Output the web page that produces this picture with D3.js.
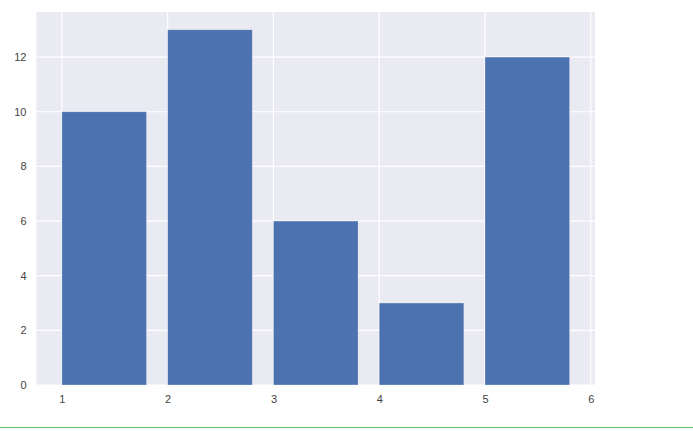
<!DOCTYPE html>
<html><head><meta charset="utf-8">
<script src="https://cdn.jsdelivr.net/npm/d3@7"></script>
<style>body{margin:0;background:#fff;}svg{display:block;}</style>
</head><body>
<svg id="c" width="693" height="431"></svg>
<script>
const categories = [1, 2, 3, 4, 5];
const values = [10, 13, 6, 3, 12];
const xTicks = [1, 2, 3, 4, 5, 6];
const yTicks = [0, 2, 4, 6, 8, 10, 12];
const barWidth = 0.8;

const svg = d3.select("#c");
const L = 36.5, R = 595, T = 12, B = 385;
const x = d3.scaleLinear().domain([0.76, 6.04]).range([L, R]);
const y = d3.scaleLinear().domain([0, 13.65]).range([B, T]);

svg.append("rect").attr("x", L).attr("y", T).attr("width", R - L).attr("height", B - T).attr("fill", "#EAEAF2");

const g = svg.append("g");
g.selectAll(".gx").data(xTicks).join("line")
  .attr("x1", d => x(d)).attr("x2", d => x(d)).attr("y1", T).attr("y2", B)
  .attr("stroke", "#fff").attr("stroke-width", 1.2);
g.selectAll(".gy").data(yTicks).join("line")
  .attr("x1", L).attr("x2", R).attr("y1", d => y(d)).attr("y2", d => y(d))
  .attr("stroke", "#fff").attr("stroke-width", 1.2);

svg.selectAll(".bar").data(categories).join("rect")
  .attr("x", d => x(d)).attr("width", d => x(d + barWidth) - x(d))
  .attr("y", (d, i) => y(values[i])).attr("height", (d, i) => y(0) - y(values[i]))
  .attr("fill", "#4C72B0").attr("stroke", "rgba(255,255,255,0.35)").attr("stroke-width", 0.8);

const xAxis = d3.axisBottom(x).tickValues(xTicks).tickSize(0).tickPadding(10).tickFormat(d3.format("d"));
const yAxis = d3.axisLeft(y).tickValues(yTicks).tickSize(0).tickPadding(10).tickFormat(d3.format("d"));
const ax = svg.append("g").attr("transform", `translate(0,${B})`).call(xAxis);
const ay = svg.append("g").attr("transform", `translate(${L},0)`).call(yAxis);
[ax, ay].forEach(a => {
  a.select(".domain").remove();
  a.selectAll("text").attr("font-family", "Liberation Sans, Arial, sans-serif").attr("font-size", 11).attr("fill", "#444");
});

svg.append("line").attr("x1", 0).attr("x2", 693).attr("y1", 427.5).attr("y2", 427.5)
  .attr("stroke", "#6abf69").attr("stroke-width", 1);
</script>
</body></html>
